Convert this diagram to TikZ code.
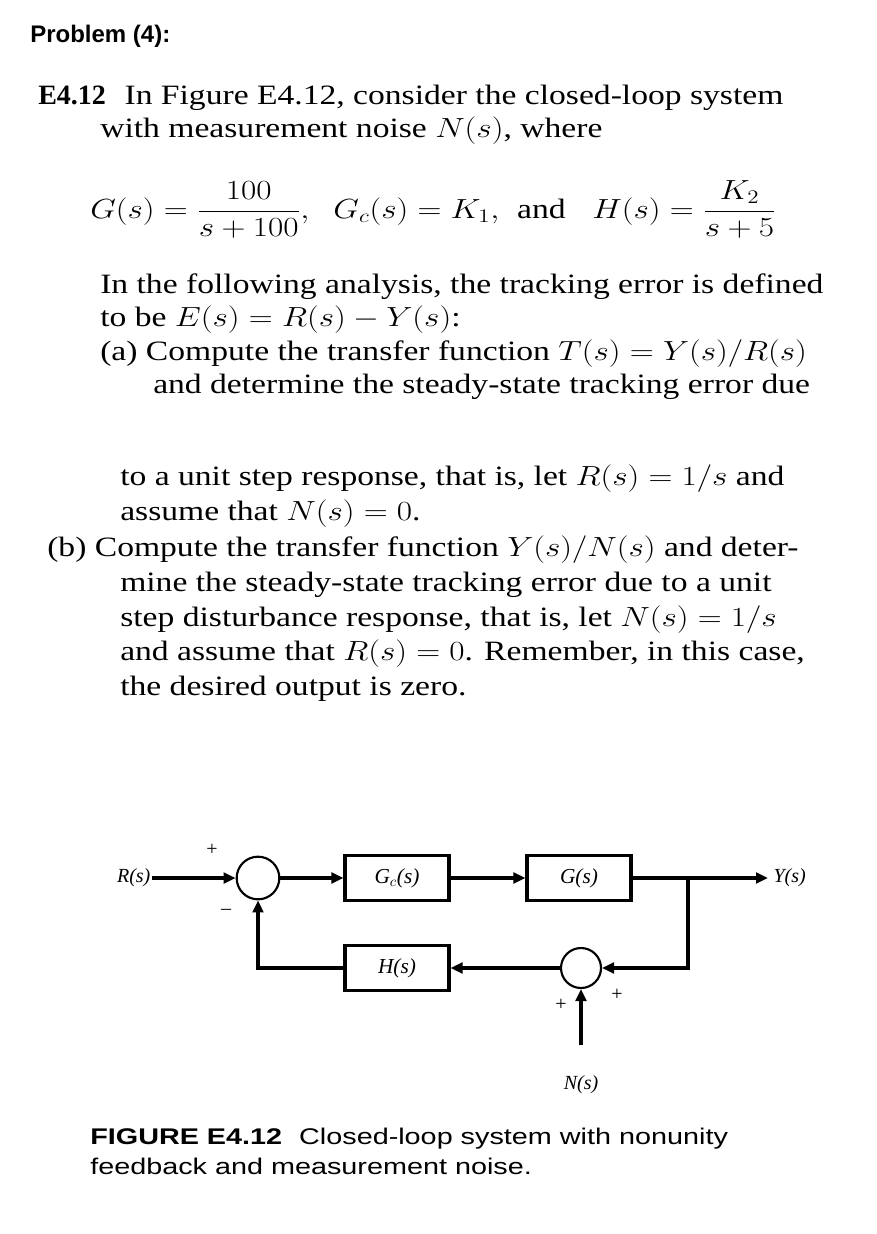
\documentclass[tikz,border=0pt]{standalone}
\usepackage{fontspec}
\setmainfont{Liberation Serif}
\setsansfont{Liberation Sans}
\usepackage{amsmath}
\usetikzlibrary{arrows.meta}
\newcommand{\fl}[1]{\scalebox{1.2}[1]{#1}}
\begin{document}
\begin{tikzpicture}[x=0.75pt,y=-0.75pt,
  txt/.style={anchor=base west,inner sep=0pt,font=\fontsize{21}{23}\selectfont},
  captxt/.style={anchor=base west,inner sep=0pt,font=\sffamily\fontsize{17}{19}\selectfont},
  blk/.style={draw,line width=2.4pt,minimum width=78pt,minimum height=34pt,font=\itshape\fontsize{16}{18}\selectfont},
  sumc/.style={draw,circle,line width=1.6pt,minimum size=32pt,inner sep=0pt},
  sig/.style={line width=3pt},
  arr/.style={sig,-{Triangle[length=9pt,width=8pt]}},
  lab/.style={font=\itshape\fontsize{15}{17}\selectfont,inner sep=1pt},
  pm/.style={font=\fontsize{15}{16}\selectfont,inner sep=0pt}]
\useasboundingbox (0,0) rectangle (876,1234);
\node[anchor=base west,inner sep=0pt,font=\sffamily\bfseries\fontsize{18}{20}\selectfont] (p) at (30,43) {Problem (4):};
\node[txt] (l1) at (38,105) {\textbf{E4.12}\hspace{14pt}\fl{In Figure E4.12, consider the closed-loop system}};
\node[txt] (l2) at (100,138) {\fl{with measurement noise $N(s)$, where}};
\node[txt] (eq) at (90,218) {\scalebox{1.2}[1]{$G(s)=\dfrac{100}{s+100},\;\; G_c(s)=K_1,\;$ and $\;\;H(s)=\dfrac{K_2}{s+5}$}};
\node[txt] (l3) at (100,293) {\fl{In the following analysis, the tracking error is defined}};
\node[txt] (l4) at (100,326) {\fl{to be $E(s)=R(s)-Y(s)$:}};
\node[txt] (l5) at (100,360) {\fl{(a) Compute the transfer function $T(s)=Y(s)/R(s)$}};
\node[txt] (l6) at (153,393) {\fl{and determine the steady-state tracking error due}};
\node[txt] (l7) at (120,485) {\fl{to a unit step response, that is, let $R(s)=1/s$ and}};
\node[txt] (l8) at (120,520) {\fl{assume that $N(s)=0$.}};
\node[txt] (l9) at (47,556) {\fl{(b) Compute the transfer function $Y(s)/N(s)$ and deter-}};
\node[txt] (l10) at (120,591) {\fl{mine the steady-state tracking error due to a unit}};
\node[txt] (l11) at (120,626) {\fl{step disturbance response, that is, let $N(s)=1/s$}};
\node[txt] (l12) at (120,660) {\fl{and assume that $R(s)=0$. Remember, in this case,}};
\node[txt] (l13) at (120,695) {\fl{the desired output is zero.}};
% diagram
\node[lab,anchor=east] (R) at (152,878) {R(s)};
\node[sumc] (s1) at (258,878) {};
\node[blk] (gc) at (397,878) {G$_c$(s)};
\node[blk] (g) at (579,878) {G(s)};
\coordinate (br) at (688,878);
\coordinate (yend) at (768,878);
\node[lab,anchor=west] (Y) at (772,878) {Y(s)};
\node[blk] (h) at (397,968) {H(s)};
\node[sumc,minimum size=30pt] (s2) at (581,968) {};
\coordinate (nst) at (581,1045);
\node[lab] (N) at (581,1085) {N(s)};
\coordinate (bl) at (258,968);
\coordinate (brb) at (688,968);
\draw[arr] (R) -- (s1.west);
\draw[arr] (s1.east) -- (gc.west);
\draw[arr] (gc.east) -- (g.west);
\draw[arr] (g.east) -- (yend);
\draw[arr] (br) -- (brb) -- (s2.east);
\draw[arr] (s2.west) -- (h.east);
\draw[arr] (h.west) -- (bl) -- (s1.south);
\draw[arr] (nst) -- (s2.south);
\node[pm] (p1) at (212,850) {+};
\node[pm] (m1) at (226,912) {\textendash};
\node[pm] (p2) at (561,1005) {+};
\node[pm] (p3) at (617,995) {+};
% caption
\node[captxt] (c1) at (90,1144) {\scalebox{1.27}[1]{\textbf{FIGURE E4.12}\hspace{10pt}Closed-loop system with nonunity}};
\node[captxt] (c2) at (90,1174) {\scalebox{1.27}[1]{feedback and measurement noise.}};
\end{tikzpicture}
\end{document}
